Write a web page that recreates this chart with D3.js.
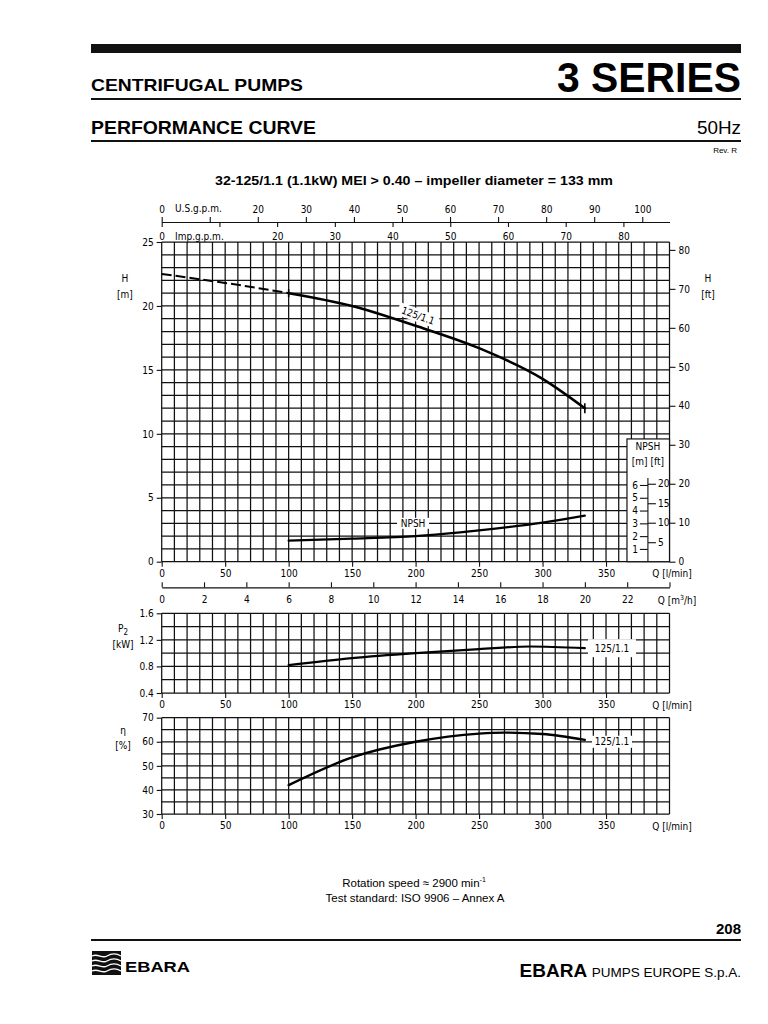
<!DOCTYPE html>
<html>
<head>
<meta charset="utf-8">
<script src="https://cdn.jsdelivr.net/npm/d3@7"></script>
<style>
  body { margin: 0; background: #fff; }
  text { font-family: "Liberation Sans", Arial, sans-serif; fill: #000; }
  .tk text, .tk { font-family: "Liberation Sans Narrow", "DejaVu Sans Condensed", sans-serif; font-size: 10px; fill: #000; }
  .grid line { stroke: #111; stroke-width: 1.25; }
  .curve { fill: none; stroke: #000; stroke-linejoin: round; stroke-linecap: round; }
</style>
</head>
<body>
<div id="chart"></div>
<script>
// ---- data ----
var headDashQ = [0, 50, 100];
var headDashM = [22.5, 21.8, 21.0];
var headQ = [100, 150, 200, 250, 300, 333.3];
var headM = [21.0, 20.0, 18.45, 16.7, 14.3, 12.0];
var npshQ = [100, 150, 200, 250, 300, 333.3];
var npshM = [1.65, 1.8, 2.0, 2.45, 3.05, 3.6];
var powerQ = [100, 150, 200, 250, 290, 333.3];
var powerKW = [0.82, 0.925, 1.0, 1.06, 1.1, 1.075];
var effQ = [100, 150, 200, 250, 270, 300, 333.3];
var effPct = [42, 53.5, 60, 63.4, 63.8, 63.2, 60.8];

// tick labels
var qTicks = [0, 50, 100, 150, 200, 250, 300, 350];
var usTicks = [0, 10, 20, 30, 40, 50, 60, 70, 80, 90, 100];
var impTicks = [0, 10, 20, 30, 40, 50, 60, 70, 80];
var m3hTicks = [0, 2, 4, 6, 8, 10, 12, 14, 16, 18, 20, 22, 24];
var hTicks = [0, 5, 10, 15, 20, 25];
var ftTicks = [0, 10, 20, 30, 40, 50, 60, 70, 80];
var npshMTicks = [1, 2, 3, 4, 5, 6];
var npshFtTicks = [5, 10, 15, 20];
var pTicks = [0.4, 0.8, 1.2, 1.6];
var pGrid = [0.4, 0.6, 0.8, 1.0, 1.2, 1.4, 1.6];
var effTicks = [30, 40, 50, 60, 70];
var effGrid = [30, 35, 40, 45, 50, 55, 60, 65, 70];

var svg = d3.select("#chart").append("svg")
  .attr("width", 768).attr("height", 1024)
  .style("background", "#fff");

// scales
var x = d3.scaleLinear().domain([0, 400]).range([161.7, 669.5]);
var xUS = d3.scaleLinear().domain([0, 400 / 3.78541]).range(x.range());
var xImp = d3.scaleLinear().domain([0, 400 / 4.54609]).range(x.range());
var xM3 = d3.scaleLinear().domain([0, 24]).range(x.range());
var yH = d3.scaleLinear().domain([0, 25]).range([561.7, 242]);
var yFt = d3.scaleLinear().domain([0, 25 / 0.3048]).range(yH.range());
var yP = d3.scaleLinear().domain([0.4, 1.6]).range([693, 613.3]);
var yE = d3.scaleLinear().domain([30, 70]).range([814, 717.7]);
var gridQ = d3.range(0, 401, 10);

// ---- header ----
svg.append("rect").attr("x", 91).attr("y", 44).attr("width", 650).attr("height", 9).attr("fill", "#111");
svg.append("text").attr("x", 91).attr("y", 91).attr("font-weight", "bold").attr("font-size", 17)
  .attr("textLength", 212).attr("lengthAdjust", "spacingAndGlyphs").text("CENTRIFUGAL PUMPS");
svg.append("text").attr("x", 741).attr("y", 92).attr("text-anchor", "end").attr("font-weight", "bold")
  .attr("font-size", 43).attr("textLength", 184).attr("lengthAdjust", "spacingAndGlyphs").text("3 SERIES");
svg.append("rect").attr("x", 91).attr("y", 98).attr("width", 650).attr("height", 2).attr("fill", "#111");
svg.append("text").attr("x", 91).attr("y", 134).attr("font-weight", "bold").attr("font-size", 18)
  .attr("textLength", 225).attr("lengthAdjust", "spacingAndGlyphs").text("PERFORMANCE CURVE");
svg.append("text").attr("x", 741).attr("y", 134).attr("text-anchor", "end").attr("font-size", 19)
  .attr("textLength", 44).attr("lengthAdjust", "spacingAndGlyphs").text("50Hz");
svg.append("rect").attr("x", 91).attr("y", 140).attr("width", 650).attr("height", 2).attr("fill", "#111");
svg.append("text").attr("x", 737).attr("y", 153).attr("text-anchor", "end").attr("font-size", 8).text("Rev. R");
svg.append("text").attr("x", 414).attr("y", 185).attr("text-anchor", "middle").attr("font-weight", "bold")
  .attr("font-size", 13).attr("textLength", 398).attr("lengthAdjust", "spacingAndGlyphs")
  .text("32-125/1.1 (1.1kW) MEI > 0.40 \u2013 impeller diameter = 133 mm");

// ---- grids ----
function drawGrid(yScale, hVals) {
  var g = svg.append("g").attr("class", "grid");
  g.selectAll(".v").data(gridQ).enter().append("line").attr("class", "v")
    .attr("x1", function(d) { return x(d); }).attr("x2", function(d) { return x(d); })
    .attr("y1", yScale.range()[0]).attr("y2", yScale.range()[1]);
  g.selectAll(".h").data(hVals).enter().append("line").attr("class", "h")
    .attr("x1", x(0)).attr("x2", x(400))
    .attr("y1", function(d) { return yScale(d); }).attr("y2", function(d) { return yScale(d); });
}
drawGrid(yH, d3.range(0, 26, 1));
drawGrid(yP, pGrid);
drawGrid(yE, effGrid);

function tidy(g, keepDomain) {
  g.attr("class", "tk").attr("font-family", null).attr("font-size", null);
  g.selectAll("text").attr("fill", "#000");
  g.selectAll("line").attr("stroke", "#111").attr("stroke-width", 1.1);
  g.select(".domain").attr("stroke", "#111").attr("stroke-width", 1.2);
  if (!keepDomain) g.select(".domain").remove();
}

// top flow axes (US / Imp gpm)
var gUS = svg.append("g").attr("transform", "translate(0,222)")
  .call(d3.axisTop(xUS).tickValues(usTicks).tickSize(5).tickSizeOuter(0).tickPadding(4)
    .tickFormat(function(d) { return d === 10 ? "" : d; }));
tidy(gUS, true);
var gImp = svg.append("g").attr("transform", "translate(0,222)")
  .call(d3.axisBottom(xImp).tickValues(impTicks).tickSize(5).tickPadding(6)
    .tickFormat(function(d) { return d === 10 ? "" : d; }));
tidy(gImp, false);
svg.append("text").attr("class", "tk").attr("x", 175).attr("y", 211.5).attr("font-size", 9.5).text("U.S.g.p.m.");
svg.append("text").attr("class", "tk").attr("x", 175).attr("y", 239.5).attr("font-size", 9.5).text("Imp.g.p.m.");

// main H axes
tidy(svg.append("g").attr("transform", "translate(" + x(0) + ",0)")
  .call(d3.axisLeft(yH).tickValues(hTicks).tickSize(5).tickPadding(3)), false);
tidy(svg.append("g").attr("transform", "translate(" + x(400) + ",0)")
  .call(d3.axisRight(yFt).tickValues(ftTicks).tickSize(6).tickPadding(3)), false);
tidy(svg.append("g").attr("transform", "translate(0," + yH(0) + ")")
  .call(d3.axisBottom(x).tickValues(qTicks).tickSize(5).tickPadding(3)), false);

function qLabel(yPos) {
  svg.append("text").attr("class", "tk").attr("x", 672).attr("y", yPos).attr("text-anchor", "middle").text("Q  [l/min]");
}
qLabel(577);

function unitLabel(xPos, yPos, top, bottom) {
  svg.append("text").attr("class", "tk").attr("x", xPos).attr("y", yPos).attr("text-anchor", "middle").attr("font-size", 11).text(top);
  svg.append("text").attr("class", "tk").attr("x", xPos).attr("y", yPos + 16).attr("text-anchor", "middle").text(bottom);
}
unitLabel(125, 282, "H", "[m]");
unitLabel(708, 282, "H", "[ft]");

// m3/h axis
var gM3 = svg.append("g").attr("transform", "translate(0,587.3)")
  .call(d3.axisBottom(xM3).tickValues(m3hTicks).tickSize(-5).tickSizeOuter(0).tickPadding(9)
    .tickFormat(function(d) { return d === 24 ? "" : d; }));
tidy(gM3, true);
var m3 = svg.append("text").attr("class", "tk").attr("x", 677).attr("y", 604).attr("text-anchor", "middle");
m3.append("tspan").text("Q  [m");
m3.append("tspan").attr("dy", -4).attr("font-size", 7).text("3");
m3.append("tspan").attr("dy", 4).text("/h]");

// NPSH inset box
var boxX = x(366.5), boxY = yH(9.6), axX = x(383);
svg.append("rect").attr("x", boxX).attr("y", boxY).attr("width", x(400) - boxX).attr("height", yH(0) - boxY)
  .attr("fill", "#fff").attr("stroke", "#111").attr("stroke-width", 1.2);
svg.append("line").attr("x1", axX).attr("x2", axX).attr("y1", yH(6.55)).attr("y2", yH(0))
  .attr("stroke", "#111").attr("stroke-width", 1.1);
tidy(svg.append("g").attr("transform", "translate(" + axX + ",0)")
  .call(d3.axisLeft(yH).tickValues(npshMTicks).tickSize(8).tickPadding(2)), false);
tidy(svg.append("g").attr("transform", "translate(" + axX + ",0)")
  .call(d3.axisRight(yFt).tickValues(npshFtTicks).tickSize(8).tickPadding(2)), false);
svg.append("text").attr("class", "tk").attr("x", axX).attr("y", 450).attr("text-anchor", "middle").attr("font-size", 9.5).text("NPSH");
svg.append("text").attr("class", "tk").attr("x", axX).attr("y", 465).attr("text-anchor", "middle").attr("font-size", 10.5).text("[m]  [ft]");

// P2 axes
tidy(svg.append("g").attr("transform", "translate(" + x(0) + ",0)")
  .call(d3.axisLeft(yP).tickValues(pTicks).tickSize(5).tickPadding(3).tickFormat(d3.format(".1f"))), false);
tidy(svg.append("g").attr("transform", "translate(0," + yP(0.4) + ")")
  .call(d3.axisBottom(x).tickValues(qTicks).tickSize(5).tickPadding(3)), false);
qLabel(709);
var p2 = svg.append("text").attr("class", "tk").attr("x", 123).attr("y", 632).attr("text-anchor", "middle").attr("font-size", 11);
p2.append("tspan").text("P");
p2.append("tspan").attr("dy", 3).attr("font-size", 8).text("2");
svg.append("text").attr("class", "tk").attr("x", 123).attr("y", 648).attr("text-anchor", "middle").text("[kW]");

// efficiency axes
tidy(svg.append("g").attr("transform", "translate(" + x(0) + ",0)")
  .call(d3.axisLeft(yE).tickValues(effTicks).tickSize(5).tickPadding(3)), false);
tidy(svg.append("g").attr("transform", "translate(0," + yE(30) + ")")
  .call(d3.axisBottom(x).tickValues(qTicks).tickSize(5).tickPadding(3)), false);
qLabel(830);
svg.append("text").attr("class", "tk").attr("x", 123).attr("y", 734).attr("text-anchor", "middle").attr("font-size", 11).text("\u03b7");
svg.append("text").attr("class", "tk").attr("x", 123).attr("y", 749).attr("text-anchor", "middle").text("[%]");

// ---- curves ----
function drawCurve(qs, vs, yScale, width, dash) {
  var line = d3.line().curve(d3.curveMonotoneX)
    .x(function(d) { return x(d[0]); }).y(function(d) { return yScale(d[1]); });
  svg.append("path").attr("class", "curve").datum(d3.zip(qs, vs))
    .attr("d", line).attr("stroke-width", width).attr("stroke-dasharray", dash || null)
    .style("stroke-linecap", dash ? "butt" : null);
}
drawCurve(headDashQ, headDashM, yH, 2, "10,4");
drawCurve(headQ, headM, yH, 2.6);
drawCurve(npshQ, npshM, yH, 2.2);
drawCurve(powerQ, powerKW, yP, 2.2);
drawCurve(effQ, effPct, yE, 2.4);

// end marks on H curve
[[headQ[0], headM[0], 4], [headQ[headQ.length - 1], headM[headM.length - 1], 5]].forEach(function(m) {
  svg.append("line").attr("x1", x(m[0])).attr("x2", x(m[0]))
    .attr("y1", yH(m[1]) - m[2]).attr("y2", yH(m[1]) + m[2])
    .attr("stroke", "#000").attr("stroke-width", 1.6);
});

// curve labels with white backing
function tag(cx, cy, label, w, h, rot, fs) {
  var g = svg.append("g").attr("transform", "translate(" + cx + "," + cy + ") rotate(" + (rot || 0) + ")");
  g.append("rect").attr("x", -w / 2).attr("y", -h / 2).attr("width", w).attr("height", h).attr("fill", "#fff");
  g.append("text").attr("class", "tk").attr("text-anchor", "middle").attr("dy", "0.36em")
    .attr("font-size", fs || 11).text(label);
}
tag(x(202), yH(19.25), "125/1.1", 42, 13, 20, 12);
tag(x(198), yH(3), "NPSH", 32, 11, 0, 11.5);
tag(x(354.7), yP(1.075), "125/1.1", 48, 18, 0, 12);
tag(x(354.7), yE(60), "125/1.1", 40, 12, 0, 12);

// ---- footer ----
var rs = svg.append("text").attr("x", 414).attr("y", 887).attr("text-anchor", "middle").attr("font-size", 11.5);
rs.append("tspan").text("Rotation speed \u2248 2900 min");
rs.append("tspan").attr("dy", -5).attr("font-size", 7).text("-1");
svg.append("text").attr("x", 415).attr("y", 902).attr("text-anchor", "middle").attr("font-size", 11.5).text("Test standard: ISO 9906 \u2013 Annex A");
svg.append("text").attr("x", 741).attr("y", 934).attr("text-anchor", "end").attr("font-weight", "bold").attr("font-size", 15).text("208");
svg.append("rect").attr("x", 91).attr("y", 939).attr("width", 650).attr("height", 2).attr("fill", "#111");

// logo mark
var logo = svg.append("g").attr("transform", "translate(92,951)");
logo.append("rect").attr("width", 29).attr("height", 24).attr("fill", "#111");
[5, 10, 15, 20].forEach(function(yy) {
  logo.append("path").attr("d", "M0," + yy + " C6," + (yy - 3) + " 10," + (yy + 3) + " 15," + yy + " S24," + (yy - 3) + " 29," + yy)
    .attr("fill", "none").attr("stroke", "#fff").attr("stroke-width", 1.3);
});
svg.append("text").attr("x", 125).attr("y", 972).attr("font-weight", "bold").attr("font-size", 15)
  .attr("textLength", 65).attr("lengthAdjust", "spacingAndGlyphs").text("EBARA");

var brand = svg.append("text").attr("x", 741).attr("y", 977).attr("text-anchor", "end");
brand.append("tspan").attr("font-weight", "bold").attr("font-size", 19).text("EBARA ");
brand.append("tspan").attr("font-size", 13.5).text("PUMPS EUROPE S.p.A.");
</script>
</body>
</html>
